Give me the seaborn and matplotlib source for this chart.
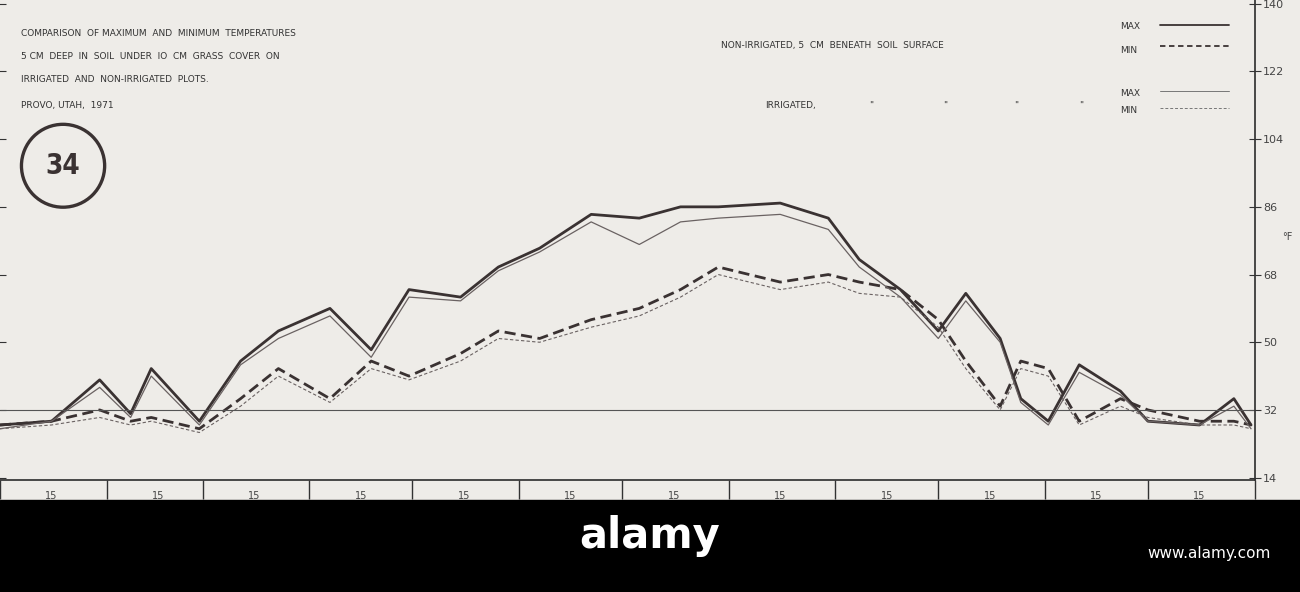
import matplotlib
matplotlib.use("Agg")
import matplotlib.pyplot as plt
import seaborn as sns
import pandas as pd
from matplotlib.patches import Rectangle, Ellipse

days = [0, 15, 29, 38, 44, 58, 70, 81, 96, 108, 119, 134, 145, 157, 172, 186, 198, 209,
        227, 241, 250, 262, 273, 281, 291, 297, 305, 314, 326, 334, 349, 359, 364]
max_non = [28, 29, 40, 31, 43, 29, 45, 53, 59, 48, 64, 62, 70, 75, 84, 83, 86, 86,
           87, 83, 72, 64, 53, 63, 51, 35, 29, 44, 37, 29, 28, 35, 28]
min_non = [28, 29, 32, 29, 30, 27, 35, 43, 35, 45, 41, 47, 53, 51, 56, 59, 64, 70,
           66, 68, 66, 64, 56, 45, 33, 45, 43, 29, 35, 32, 29, 29, 28]
max_irr = [27, 29, 38, 30, 41, 28, 44, 51, 57, 46, 62, 61, 69, 74, 82, 76, 82, 83,
           84, 80, 70, 62, 51, 61, 50, 34, 28, 42, 36, 29, 28, 33, 27]
min_irr = [27, 28, 30, 28, 29, 26, 33, 41, 34, 43, 40, 45, 51, 50, 54, 57, 62, 68,
           64, 66, 63, 62, 54, 43, 32, 43, 41, 28, 33, 30, 28, 28, 27]
y_ticks = [14, 32, 50, 68, 86, 104, 122, 140]
month_starts = [0, 31, 59, 90, 120, 151, 181, 212, 243, 273, 304, 334, 365]

bg = "#eeece8"
ink = "#3a3232"
sns.set_theme(style="white")
plt.rcParams['font.family'] = ['DejaVu Sans']
fig = plt.figure(figsize=(13, 5.92), dpi=100, facecolor=bg)
ax = fig.add_axes([0.0, 0.19, 0.965, 0.81])
ax.set_facecolor(bg)

df = pd.DataFrame({"day": days, "mn": max_non, "nn": min_non, "mi": max_irr, "ni": min_irr})
sns.lineplot(data=df, x="day", y="mn", ax=ax, color=ink, lw=2.0)
sns.lineplot(data=df, x="day", y="nn", ax=ax, color=ink, lw=2.0, linestyle=(0, (4, 2)))
sns.lineplot(data=df, x="day", y="mi", ax=ax, color="#6a6262", lw=0.9)
sns.lineplot(data=df, x="day", y="ni", ax=ax, color="#6a6262", lw=0.8, linestyle=(0, (3, 2)))
ax.axhline(32, color="#555", lw=0.8)

ax.set_xlim(0, 365)
ax.set_ylim(13.5, 141)
ax.set_xlabel(""); ax.set_ylabel("")
for s in ["top", "left"]:
    ax.spines[s].set_visible(False)
ax.spines["right"].set_color("#333"); ax.spines["bottom"].set_color("#333")
ax.yaxis.tick_right()
ax.set_yticks(y_ticks)
ax.set_yticklabels([str(v) for v in y_ticks], fontsize=8, color="#444")
ax.tick_params(axis="y", direction="inout", length=8, width=0.8, color="#333", pad=2, left=True)
ax.set_xticks(month_starts)
ax.set_xticklabels([""] * len(month_starts))
ax.tick_params(axis="x", direction="out", length=14, width=1, color="#333", bottom=True)
for m in range(12):
    ax.text(month_starts[m] + 15, 13.5 - 4.5, "15", fontsize=7, color="#444", ha="center", va="center")
ax.text(1.022, 0.5, "°F", transform=ax.transAxes, fontsize=7, color="#444")

tk = dict(fontsize=6.5, color="#333", transform=ax.transAxes)
ax.text(0.017, 0.925, "COMPARISON  OF MAXIMUM  AND  MINIMUM  TEMPERATURES", **tk)
ax.text(0.017, 0.878, "5 CM  DEEP  IN  SOIL  UNDER  IO  CM  GRASS  COVER  ON", **tk)
ax.text(0.017, 0.828, "IRRIGATED  AND  NON-IRRIGATED  PLOTS.", **tk)
ax.text(0.017, 0.775, "PROVO, UTAH,  1971", **tk)
ax.text(0.575, 0.9, "NON-IRRIGATED, 5  CM  BENEATH  SOIL  SURFACE", **tk)
ax.text(0.61, 0.775, "IRRIGATED,", **tk)
for qx in [0.693, 0.752, 0.808, 0.86]:
    ax.text(qx, 0.775, "\"", **tk)
ax.text(0.893, 0.94, "MAX", **tk); ax.text(0.893, 0.89, "MIN", **tk)
ax.text(0.893, 0.8, "MAX", **tk); ax.text(0.893, 0.765, "MIN", **tk)
ax.plot([0.925, 0.98], [0.948, 0.948], transform=ax.transAxes, color=ink, lw=1.3)
ax.plot([0.925, 0.98], [0.905, 0.905], transform=ax.transAxes, color=ink, lw=1.3, ls=(0, (3, 2)))
ax.plot([0.925, 0.98], [0.81, 0.81], transform=ax.transAxes, color="#777", lw=0.7)
ax.plot([0.925, 0.98], [0.775, 0.775], transform=ax.transAxes, color="#777", lw=0.7, ls=(0, (3, 2)))

fig.patches.append(Ellipse((0.0485, 0.72), 0.064, 0.14, transform=fig.transFigure, fill=False,
                           ec=ink, lw=2.4, figure=fig))
fig.text(0.0485, 0.72, "34", fontsize=20, ha="center", va="center", color=ink, weight="bold",
         stretch="condensed")

fig.patches.append(Rectangle((0, 0), 1, 0.155, transform=fig.transFigure, color="black", figure=fig))
fig.text(0.5, 0.095, "alamy", fontsize=30, color="white", ha="center", va="center", weight="bold")
fig.text(0.93, 0.065, "www.alamy.com", fontsize=11, color="white", ha="center", va="center")

fig.savefig("out.png", dpi=100, facecolor=bg)
